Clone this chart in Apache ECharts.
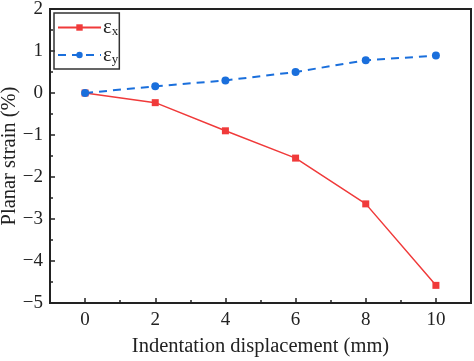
<!DOCTYPE html>
<html>
<head>
<meta charset="utf-8">
<script src="https://cdn.jsdelivr.net/npm/echarts@6/dist/echarts.min.js"></script>
<style>html,body{margin:0;padding:0;background:#fff}#c{width:474px;height:361px}</style>
</head>
<body>
<div id="c"></div>
<script>
var displacement = [0, 2, 4, 6, 8, 10];
var epsX = [0, -0.23, -0.9, -1.55, -2.64, -4.58];
var epsY = [0, 0.16, 0.3, 0.5, 0.78, 0.89];
var xMajorTicks = [0, 2, 4, 6, 8, 10];
var xMinorTicks = [1, 3, 5, 7, 9];
var xTitle = 'Indentation displacement (mm)';
var yTitle = 'Planar strain (%)';

var FONT = 'Liberation Serif';
var chart = echarts.init(document.getElementById('c'), null, {renderer: 'canvas'});
function pairs(xs, ys) { return xs.map(function (x, i) { return [x, ys[i]]; }); }
var axisCol = '#222';
chart.setOption({
  animation: false,
  backgroundColor: '#fff',
  grid: {left: 50, top: 9, right: 3, bottom: 58, containLabel: false, outerBoundsMode: 'none',
    show: true, borderColor: axisCol, borderWidth: 2, backgroundColor: 'transparent'},
  legend: {
    left: 54, top: 13, orient: 'vertical', itemWidth: 43, itemHeight: 8, itemGap: 6,
    padding: [4, 1, 3, 3], borderColor: '#333', borderWidth: 1.5,
    data: ['x', 'y'],
    formatter: function (n) { return '{a|ε}{b|' + n + '}'; },
    textStyle: {fontFamily: FONT, padding: [0, 0, 0, -3], rich: {a: {fontFamily: FONT, fontSize: 21, color: '#222'}, b: {fontFamily: FONT, fontSize: 13, color: '#222', verticalAlign: 'bottom', padding: [9, 0, 0, 0]}}}
  },
  xAxis: [{
    type: 'value', min: -1, max: 11, interval: 1,
    axisLine: {show: true, onZero: false, lineStyle: {color: axisCol, width: 2}},
    axisTick: {show: true, inside: true, length: 5, customValues: xMajorTicks, lineStyle: {color: axisCol, width: 1.5}},
    axisLabel: {customValues: xMajorTicks, fontFamily: FONT, fontSize: 19, color: '#222', margin: 8},
    splitLine: {show: false},
    name: xTitle, nameLocation: 'middle', nameGap: 33, nameMoveOverlap: false,
    nameTextStyle: {fontFamily: FONT, fontSize: 20.5, color: '#222'}
  }, {
    type: 'value', min: -1, max: 11, interval: 1, position: 'bottom',
    axisLine: {show: false, onZero: false},
    axisTick: {show: true, inside: true, length: 3, customValues: xMinorTicks, lineStyle: {color: axisCol, width: 1.5}},
    axisLabel: {show: false}, splitLine: {show: false}
  }],
  yAxis: {
    type: 'value', min: -5, max: 2, interval: 1,
    axisLine: {show: true, onZero: false, lineStyle: {color: axisCol, width: 2}},
    axisTick: {show: true, inside: true, length: 5, lineStyle: {color: axisCol, width: 1.5}},
    minorTick: {show: true, splitNumber: 2, length: 3, lineStyle: {color: axisCol, width: 1.5}},
    axisLabel: {fontFamily: FONT, fontSize: 19, color: '#222', margin: 7,
      formatter: function (v) { return String(v).replace('-', '\u2212'); }},
    splitLine: {show: false},
    name: yTitle, nameLocation: 'middle', nameGap: 30, nameMoveOverlap: false,
    nameTextStyle: {fontFamily: FONT, fontSize: 20.5, color: '#222'}
  },
  series: [{
    name: 'x', type: 'line', data: pairs(displacement, epsX),
    symbol: 'rect', symbolSize: 7,
    lineStyle: {color: '#f03a3a', width: 1.5},
    itemStyle: {color: '#f03a3a'}
  }, {
    name: 'y', type: 'line', data: pairs(displacement, epsY),
    symbol: 'circle', symbolSize: 8,
    lineStyle: {color: '#1a6fdc', width: 2, type: [8, 6]},
    itemStyle: {color: '#1a6fdc'}
  }]
});
</script>
</body>
</html>
